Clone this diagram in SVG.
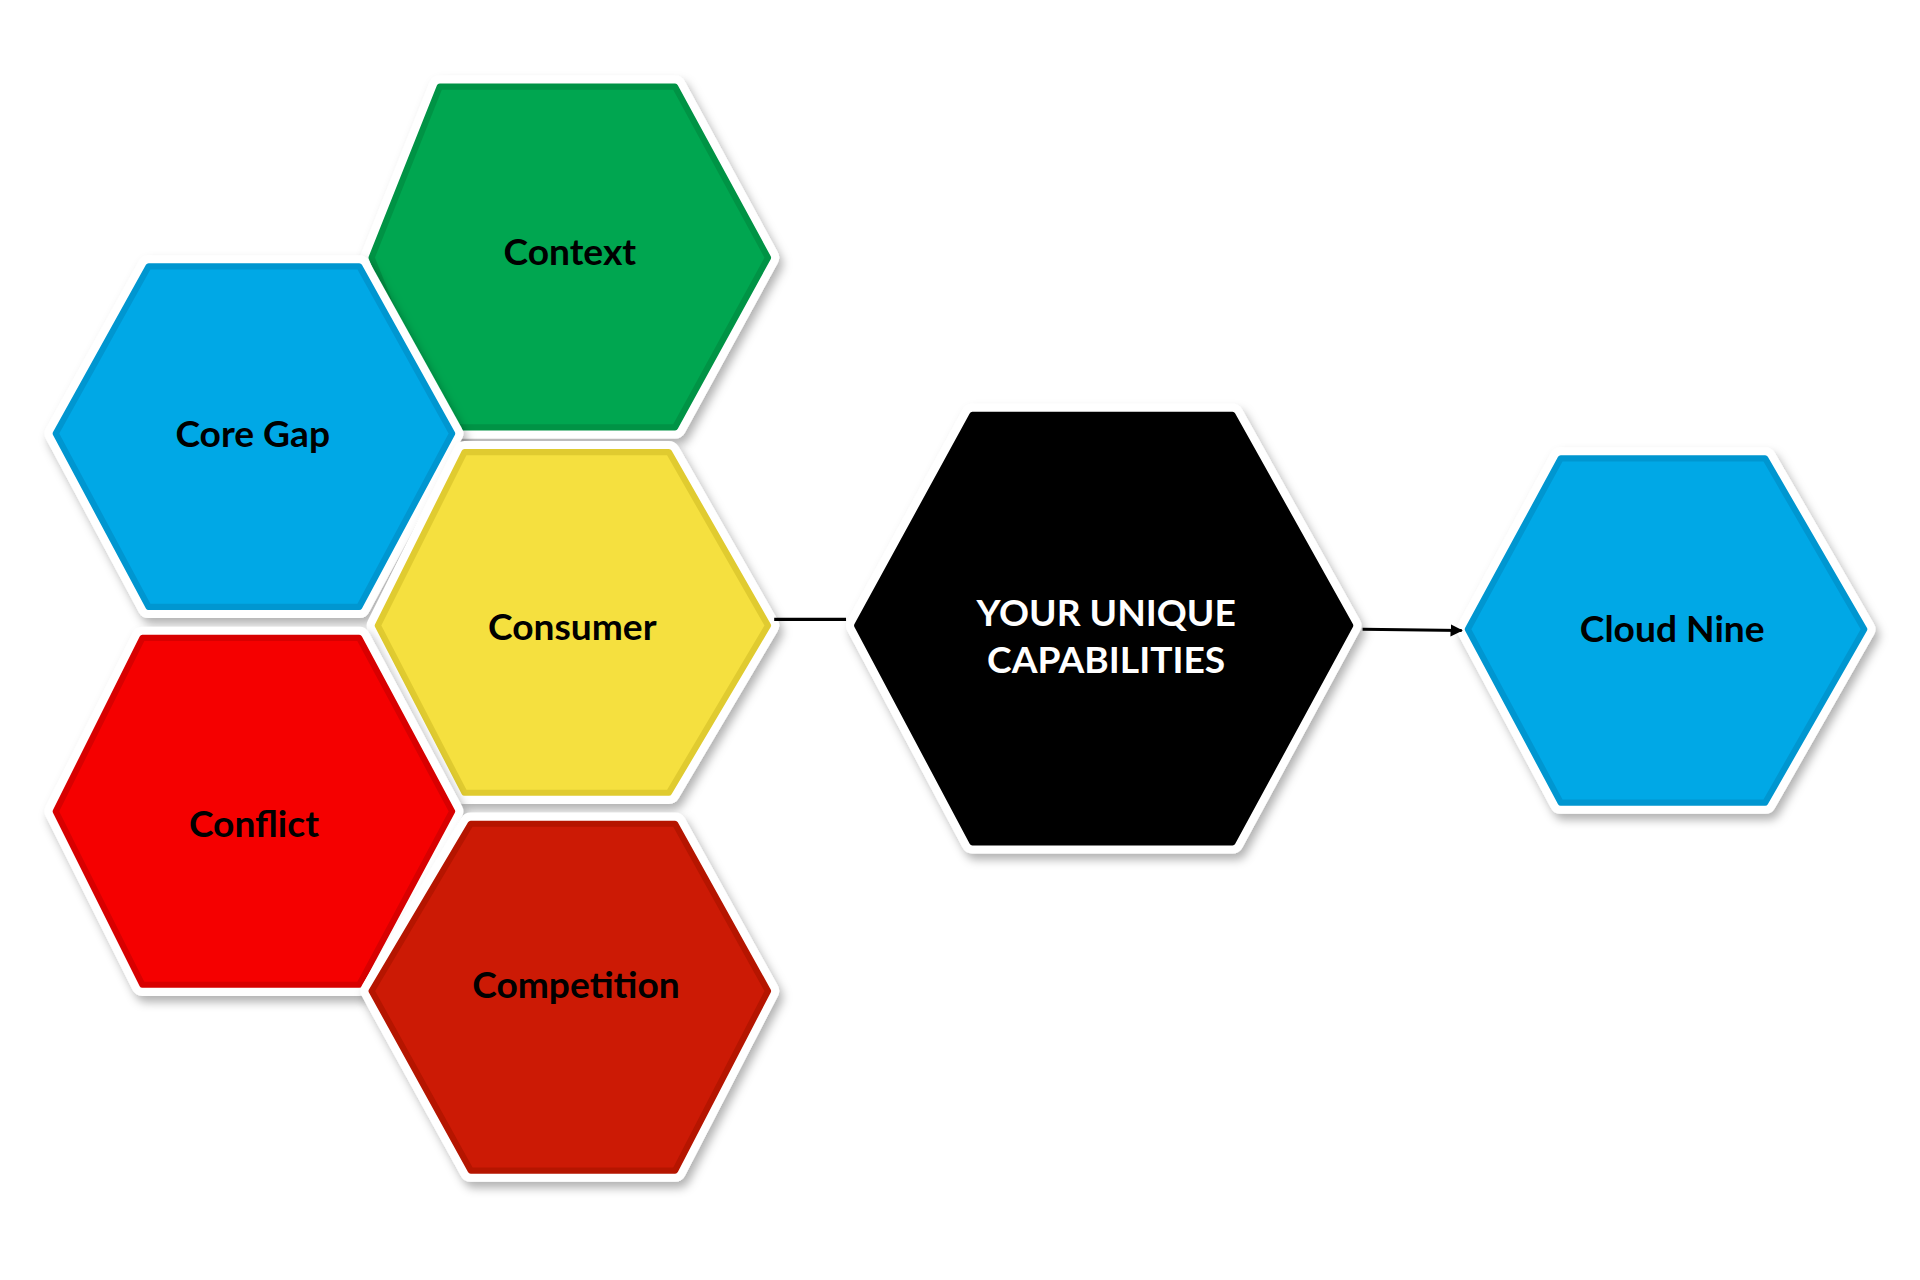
<svg xmlns="http://www.w3.org/2000/svg" width="1920" height="1280" viewBox="0 0 1920 1280">
<style>
.frame{fill:#fff;stroke:#fff;stroke-width:18;stroke-linejoin:round;filter:url(#sh)}
.hex{stroke-width:5;stroke-linejoin:round}
.t{font-family:Lato,"Open Sans",sans-serif;font-weight:bold;font-size:30px;text-anchor:middle;fill:#000}
.w{fill:#fff}
</style>
<defs>
<filter id="sh" x="-10%" y="-10%" width="130%" height="130%"><feDropShadow dx="3" dy="5" stdDeviation="4" flood-color="#000" flood-opacity="0.3"/></filter>
<marker id="ah" markerWidth="10" markerHeight="10" refX="9" refY="5" orient="auto" markerUnits="userSpaceOnUse"><path d="M0,0 L10,5 L0,10 z" fill="#000"/></marker>
</defs>
<rect width="1920" height="1280" fill="#fff"/>
<g transform="scale(1.2387)">
<g id="context"><polygon class="frame" points="355,70 545,70 620,208 545,345 355,345 300,208"/><polygon class="hex" fill="#00a650" stroke="#009345" points="355,70 545,70 620,208 545,345 355,345 300,208"/><text class="t" x="460" y="214">Context</text></g>
<g id="coregap"><polygon class="frame" points="120,215 290,215 365,350 290,490 120,490 45,350"/><polygon class="hex" fill="#00a8e6" stroke="#0096d0" points="120,215 290,215 365,350 290,490 120,490 45,350"/><text class="t" x="204" y="361">Core Gap</text></g>
<g id="consumer"><polygon class="frame" points="375,365 540,365 620,505 540,640 375,640 305,505"/><polygon class="hex" fill="#f5e03f" stroke="#e0cb30" points="375,365 540,365 620,505 540,640 375,640 305,505"/><text class="t" x="462" y="517">Consumer</text></g>
<g id="conflict"><polygon class="frame" points="115,515 290,515 365,655 290,795 115,795 45,655"/><polygon class="hex" fill="#f50000" stroke="#d80000" points="115,515 290,515 365,655 290,795 115,795 45,655"/><text class="t" x="205" y="676">Conflict</text></g>
<g id="competition"><polygon class="frame" points="380,665 545,665 620,800 545,945 380,945 300,800"/><polygon class="hex" fill="#cc1a05" stroke="#b51500" points="380,665 545,665 620,800 545,945 380,945 300,800"/><text class="t" x="465" y="806">Competition</text></g>
<g id="unique"><polygon class="frame" points="785,335 995,335 1090,505 995,680 785,680 692,505"/><polygon class="hex" fill="#000" stroke="#000" points="785,335 995,335 1090,505 995,680 785,680 692,505"/><text class="t w" x="893" y="505">YOUR UNIQUE</text><text class="t w" x="893" y="543">CAPABILITIES</text></g>
<g id="cloudnine"><polygon class="frame" points="1260,370 1425,370 1505,508 1425,648 1260,648 1185,508"/><polygon class="hex" fill="#00a8e6" stroke="#0096d0" points="1260,370 1425,370 1505,508 1425,648 1260,648 1185,508"/><text class="t" x="1350" y="518">Cloud Nine</text></g>
<g id="connectors" stroke="#000" stroke-width="2.5" fill="none">
<line x1="625" y1="500" x2="683" y2="500"/>
<line x1="1100" y1="508" x2="1180" y2="509" marker-end="url(#ah)"/>
</g>
</g>
</svg>
